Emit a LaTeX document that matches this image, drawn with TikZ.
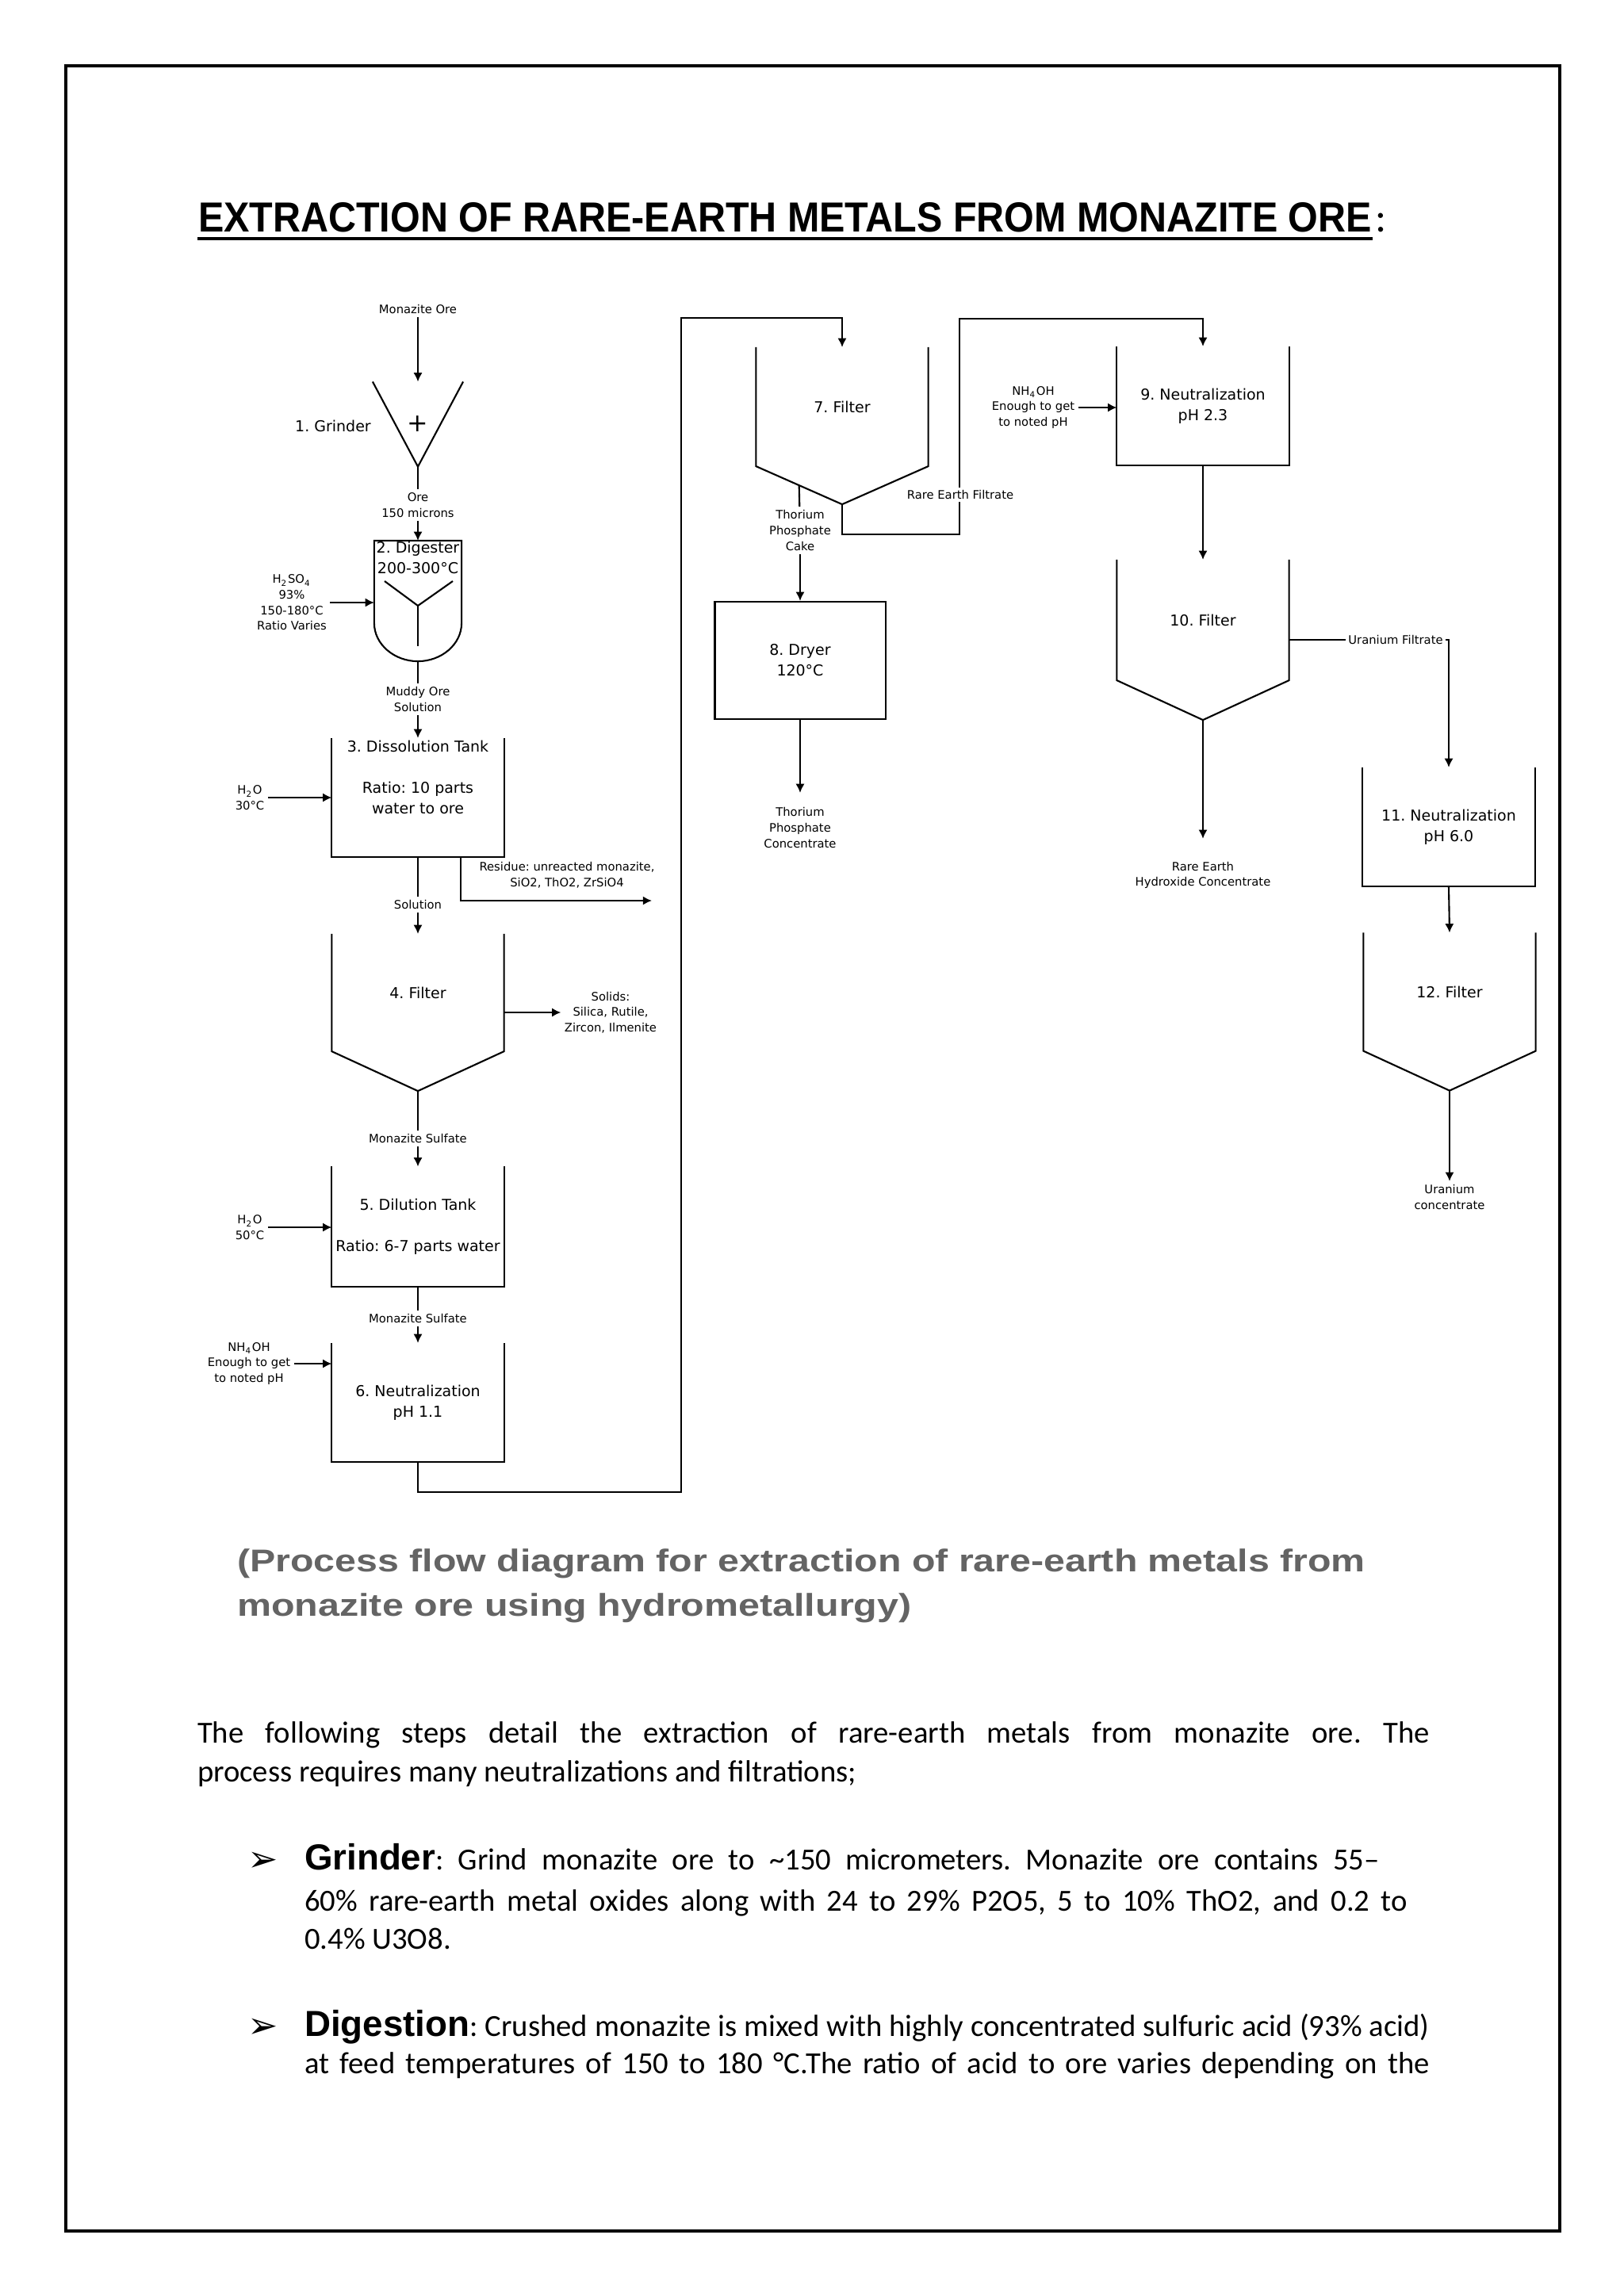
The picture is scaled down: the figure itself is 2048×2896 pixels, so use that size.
\documentclass[tikz,border=0pt]{standalone}
\usepackage{fontspec}
\usepackage{graphicx}
\setmainfont{Carlito}
\newfontfamily\diagfont{DejaVu Sans}
\newfontfamily\headfont{Liberation Sans}
\usetikzlibrary{arrows.meta, positioning, calc}
\definecolor{capgray}{RGB}{100,100,100}
\frenchspacing
% squeeze a line if it is too long, spread its spaces if it is too short
\newcommand\fitline[2]{\setbox0=\hbox{#2}\ifdim\wd0>#1\relax\resizebox{#1}{\height}{#2}\else\makebox[#1][s]{#2}\fi}

\begin{document}
\begin{tikzpicture}[
  x=0.01cm, y=-0.01cm,
  line width=0.6pt,
  stagetxt/.style={font=\diagfont\fontsize{5.4}{7.4}\selectfont, align=center, inner sep=0pt},
  flowlbl/.style={font=\diagfont\fontsize{4.2}{5.6}\selectfont, align=center, inner sep=1pt},
  tank/.style={stagetxt, minimum width=2.15cm, minimum height=1.48cm},
  arr/.style={-{Latex[length=3.2pt,width=3.2pt]}},
  bodytxt/.style={font=\fontsize{11}{13}\selectfont, anchor=base west, inner sep=0pt}
]
  \useasboundingbox (0,0) rectangle (2048,2896);
  \draw[line width=1.15pt] (83,83) rectangle (1967,2814);

  % heading
  \node[anchor=base west, inner sep=0pt] (title) at (249,292)
    {\resizebox{14.79cm}{0.37cm}{\headfont\bfseries EXTRACTION OF RARE-EARTH METALS FROM MONAZITE ORE}};
  \node[anchor=base west, inner sep=0pt, font=\fontsize{15}{15}\selectfont] (colon) at (1733,292) {:};
  \draw[line width=1.3pt] ($(title.base west)+(0,9)$) -- ($(title.base east)+(0,9)$);

  % left column
  \node[flowlbl] (ore) at (527,390) {Monazite Ore};
  \node[stagetxt, minimum width=1.12cm, minimum height=1.05cm, font=\diagfont\fontsize{9}{9}\selectfont] (grind) at (527,535) {+};
  \node[stagetxt] (grindtxt) at (420,537) {1. Grinder};
  \node[flowlbl] (ore2) at (527,637) {Ore\\150 microns};
  \node[stagetxt, minimum width=1.08cm, minimum height=1.02cm] (dig) at (527,734) {};
  \node[stagetxt, below=0pt] (digtxt) at (dig.north) {2. Digester\\200-300°C};
  \node[flowlbl] (acid) at (368,760) {H\textsubscript{2}SO\textsubscript{4}\\93\%\\150-180°C\\Ratio Varies};
  \node[flowlbl] (mud) at (527,882) {Muddy Ore\\Solution};
  \node[tank] (t3) at (527,1006) {3. Dissolution Tank\\[7.4pt]Ratio: 10 parts\\water to ore\\[7.4pt]\mbox{}};
  \node[flowlbl] (w1) at (315,1006) {H\textsubscript{2}O\\30°C};
  \node[flowlbl] (res) at (715,1104) {Residue: unreacted monazite,\\SiO2, ThO2, ZrSiO4};
  \coordinate (resend) at (822,1136);
  \node[flowlbl] (sol) at (527,1141) {Solution};
  \node[tank, minimum height=1.46cm] (f4) at (527,1252) {4. Filter};
  \node[flowlbl] (sld) at (770,1277) {Solids:\\Silica, Rutile,\\Zircon, Ilmenite};
  \node[flowlbl] (ms1) at (527,1436) {Monazite Sulfate};
  \node[tank, minimum height=1.49cm] (t5) at (527,1547) {5. Dilution Tank\\[7.4pt]Ratio: 6-7 parts water};
  \node[flowlbl] (w2) at (315,1548) {H\textsubscript{2}O\\50°C};
  \node[flowlbl] (ms2) at (527,1663) {Monazite Sulfate};
  \node[tank] (t6) at (527,1769) {6. Neutralization\\pH 1.1};
  \node[flowlbl] (nh1) at (314,1720) {NH\textsubscript{4}OH\\Enough to get\\to noted pH};
  \coordinate (loopA) at (859,1882);
  \coordinate (loopB) at (859,401);

  % middle column
  \node[tank] (f7) at (1062,513) {7. Filter};
  \node[flowlbl] (cake) at (1009,669) {Thorium\\Phosphate\\Cake};
  \node[tank, draw] (dry) at (1009,833) {8. Dryer\\120°C};
  \node[flowlbl] (tpc) at (1009,1044) {Thorium\\Phosphate\\Concentrate};
  \coordinate (rfA) at (1210,674);
  \coordinate (rfB) at (1210,402);

  % right columns
  \node[tank] (t9) at (1517,512) {9. Neutralization\\pH 2.3};
  \node[flowlbl] (nh2) at (1303,514) {NH\textsubscript{4}OH\\Enough to get\\to noted pH};
  \node[tank, minimum height=1.50cm] (f10) at (1517,782) {10. Filter};
  \node[flowlbl] (reh) at (1517,1104) {Rare Earth\\Hydroxide Concentrate};
  \coordinate (ufA) at (1827,807);
  \node[tank] (t11) at (1827,1043) {11. Neutralization\\pH 6.0};
  \node[tank, minimum height=1.47cm] (f12) at (1828,1251) {12. Filter};
  \node[flowlbl] (uc) at (1828,1510) {Uranium\\concentrate};

  % vessel outlines
  \draw (grind.north west) -- (grind.south) -- (grind.north east);
  \coordinate (digbot) at ($(dig.south)+(0,48)$);
  \draw (dig.north west) -- (dig.north east) -- (dig.south east)
    .. controls ($(dig.south east)+(0,26.5)$) and ($(digbot)+(29.8,0)$) .. (digbot)
    .. controls ($(digbot)+(-29.8,0)$) and ($(dig.south west)+(0,26.5)$) .. (dig.south west) -- cycle;
  \draw ($(dig.center)+(-42,-1)$) -- ($(dig.center)+(0,30)$) -- ($(dig.center)+(44,-1)$);
  \draw ($(dig.center)+(0,30)$) -- ($(dig.center)+(0,81)$);
  \foreach \t in {t3,t5,t6,t9,t11}
    \draw (\t.north west) -- (\t.south west) -- (\t.south east) -- (\t.north east);
  \foreach \f/\d in {f4/50,f7/48,f10/50,f12/50} {
    \coordinate (\f tip) at ($(\f.south)+(0,\d)$);
    \draw (\f.north west) -- (\f.south west) -- (\f tip) -- (\f.south east) -- (\f.north east);
  }
  \coordinate (cake0) at ($(f7.south west)!0.5!(f7tip)$);

  % streams
  \draw[arr] (ore) -- (grind.north);
  \draw (grind.south) -- (ore2);
  \draw[arr] (ore2) -- (dig.north);
  \draw[arr] (acid.east) -- (acid.east -| dig.west);
  \draw (digbot) -- (mud);
  \draw[arr] (mud) -- (t3.north);
  \draw[arr] (w1.east) -- (w1.east -| t3.west);
  \draw[arr] ($(t3.south)+(54,0)$) |- (resend);
  \draw (t3.south) -- (sol);
  \draw[arr] (sol) -- (f4.north);
  \draw[arr] (sld.west -| f4.east) -- (sld.west);
  \draw (f4tip) -- (ms1);
  \draw[arr] (ms1) -- (t5.north);
  \draw[arr] (w2.east) -- (w2.east -| t5.west);
  \draw (t5.south) -- (ms2);
  \draw[arr] (ms2) -- (t6.north);
  \draw[arr] (nh1.east) -- (nh1.east -| t6.west);
  \draw[arr] (t6.south) |- (loopA) -- (loopB) -| (f7.north);
  \draw (cake0) -- (cake);
  \draw[arr] (cake) -- (dry.north);
  \draw[arr, shorten >=4pt] (dry.south) -- (tpc.north);
  \draw[arr] (f7tip) |- (rfA) -- (rfB) -| (t9.north);
  \node[flowlbl, fill=white] (rfl) at (1211,624) {Rare Earth Filtrate};
  \draw[arr] (nh2.east) -- (nh2.east -| t9.west);
  \draw[arr] (t9.south) -- (f10.north);
  \draw[arr, shorten >=7pt] (f10tip) -- (reh.north);
  \draw[arr] (f10.east |- ufA) -- (ufA) -- (t11.north);
  \node[flowlbl, fill=white] (ufl) at (1760,807) {Uranium Filtrate};
  \draw[arr] (t11.south) -- (f12.north);
  \draw[arr] (f12tip) -- (uc.north);

  % caption
  \node[anchor=base west, inner sep=0pt, text=capgray] (cap1) at (298,1982)
    {\resizebox{14.22cm}{\height}{\headfont\bfseries\fontsize{11.3}{13}\selectfont (Process flow diagram for extraction of rare-earth metals from}};
  \node[anchor=base west, inner sep=0pt, text=capgray] (cap2) at (298,2038)
    {\resizebox{8.50cm}{\height}{\headfont\bfseries\fontsize{11.3}{13}\selectfont monazite ore using hydrometallurgy)}};

  % text below the picture
  \node[bodytxt] (para1) at (248,2198)
    {\fitline{15.53cm}{The following steps detail the extraction of rare-earth metals from monazite ore. The}};
  \node[bodytxt] (para2) at (248,2247) {process requires many neutralizations and filtrations;};
  \node[bodytxt, anchor=base, font=\diagfont\fontsize{13}{13}\selectfont] (b1) at (332,2360) {➢};
  \node[bodytxt] (g1) at (383,2358)
    {\fitline{13.55cm}{{\headfont\bfseries\fontsize{13}{13}\selectfont Grinder}: Grind monazite ore to \textasciitilde150 micrometers. Monazite ore contains 55–}};
  \node[bodytxt] (g2) at (383,2410)
    {\fitline{13.90cm}{60\% rare-earth metal oxides along with 24 to 29\% P2O5, 5 to 10\% ThO2, and 0.2 to}};
  \node[bodytxt] (g3) at (383,2458) {0.4\% U3O8.};
  \node[bodytxt, anchor=base, font=\diagfont\fontsize{13}{13}\selectfont] (b2) at (332,2570) {➢};
  \node[bodytxt] (d1) at (383,2568)
    {\fitline{14.18cm}{{\headfont\bfseries\fontsize{13}{13}\selectfont Digestion}: Crushed monazite is mixed with highly concentrated sulfuric acid (93\% acid)}};
  \node[bodytxt] (d2) at (383,2615)
    {\fitline{14.18cm}{at feed temperatures of 150 to 180 °C.The ratio of acid to ore varies depending on the}};
\end{tikzpicture}
\end{document}
